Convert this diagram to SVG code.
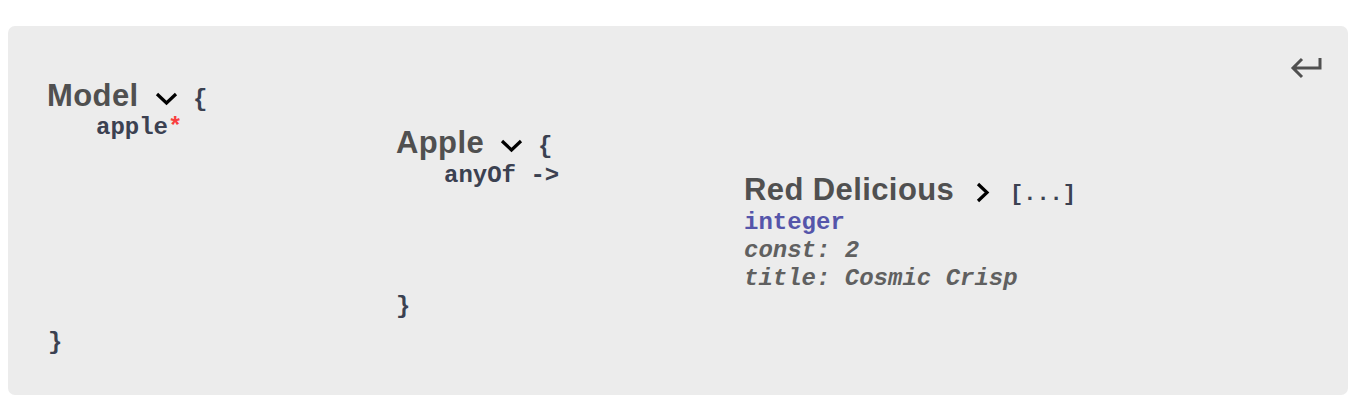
<svg xmlns="http://www.w3.org/2000/svg" width="1364" height="414" viewBox="0 0 1364 414">
<style>
.title{font-family:"Liberation Sans",Arial,sans-serif;font-weight:bold;font-size:31px;letter-spacing:0.4px;fill:#505050}
.mono{font-family:"Liberation Mono","Courier New",monospace;font-weight:bold;font-size:24px;fill:#3b4151}
.type{fill:#55a}
.fmt{font-style:italic;fill:#606060}
.req{fill:#f93e3e}
.chev{fill:none;stroke:#000;stroke-width:3.2;stroke-linecap:butt;stroke-linejoin:miter}
.icon{fill:none;stroke:#505050;stroke-width:3}
</style>
<rect x="0" y="0" width="1364" height="414" fill="#ffffff"/>
<rect x="8" y="26" width="1340" height="369" rx="7" fill="#ececec"/>
<g id="connectors"/>
<g id="node-model">
<text class="title" x="47" y="106">Model</text>
<path class="chev" d="M157 94 L166.5 103 L176 94"/>
<text class="mono" x="193" y="106">{</text>
<text class="mono" x="96" y="134">apple<tspan class="req">*</tspan></text>
<text class="mono" x="48" y="349">}</text>
</g>
<g id="node-apple">
<text class="title" x="396" y="153">Apple</text>
<path class="chev" d="M502 141 L511.5 150 L521 141"/>
<text class="mono" x="538" y="153">{</text>
<text class="mono" x="444" y="182">anyOf -&gt;</text>
<text class="mono" x="396" y="313">}</text>
</g>
<g id="node-red-delicious">
<text class="title" x="744" y="200">Red Delicious</text>
<path class="chev" d="M978 184 L987 192.5 L978 201"/>
<text class="mono" x="1010" y="200" style="font-size:22px">[...]</text>
<text class="mono type" x="744" y="229">integer</text>
<text class="mono fmt" x="744" y="257">const: 2</text>
<text class="mono fmt" x="744" y="285">title: Cosmic Crisp</text>
</g>
<g id="icon-return">
<path class="icon" d="M1320 58 V68 H1293 M1302 59 L1293 68 L1302 77"/>
</g>
</svg>
